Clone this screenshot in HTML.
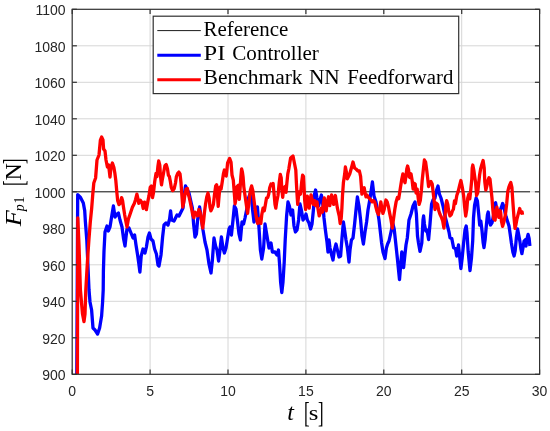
<!DOCTYPE html>
<html><head><meta charset="utf-8"><title>Plot</title>
<style>
html,body{margin:0;padding:0;background:#fff;}
svg{display:block;}
.tk{font-family:"Liberation Sans",sans-serif;font-size:14px;fill:#262626;}
.tx{font-family:"Liberation Serif",serif;fill:#000;}
</style></head><body>
<svg width="550" height="431" viewBox="0 0 550 431">
<rect width="550" height="431" fill="#fff"/>
<g stroke="#d6d6d6" stroke-width="1" fill="none"><line x1="150.10" y1="9.3" x2="150.10" y2="374.3"/><line x1="228.00" y1="9.3" x2="228.00" y2="374.3"/><line x1="305.90" y1="9.3" x2="305.90" y2="374.3"/><line x1="383.80" y1="9.3" x2="383.80" y2="374.3"/><line x1="461.70" y1="9.3" x2="461.70" y2="374.3"/><line x1="72.2" y1="337.80" x2="539.6" y2="337.80"/><line x1="72.2" y1="301.30" x2="539.6" y2="301.30"/><line x1="72.2" y1="264.80" x2="539.6" y2="264.80"/><line x1="72.2" y1="228.30" x2="539.6" y2="228.30"/><line x1="72.2" y1="191.80" x2="539.6" y2="191.80"/><line x1="72.2" y1="155.30" x2="539.6" y2="155.30"/><line x1="72.2" y1="118.80" x2="539.6" y2="118.80"/><line x1="72.2" y1="82.30" x2="539.6" y2="82.30"/><line x1="72.2" y1="45.80" x2="539.6" y2="45.80"/></g>
<clipPath id="c"><rect x="72.2" y="9.3" width="467.40000000000003" height="365.0"/></clipPath>
<g clip-path="url(#c)" fill="none" stroke-linejoin="round" stroke-linecap="butt">
<line x1="72.2" y1="191.80" x2="530" y2="191.80" stroke="#000" stroke-width="0.9"/>
<polyline stroke="#0000ff" stroke-width="3.3" points="76.8,374.3 77.7,194.6 80.5,197.4 83.3,203 84.7,210.6 85.4,221.8 86.8,240 89,290 90,302 91.6,310 93,328 95,330 97.6,334 99.6,328 101.6,316 102.6,302 103.2,290 103.4,271 104,251 105,232 107,226 108.4,231 110,227 111.6,217 113.4,206 115,217 117,214 118.4,213 120,220 122,227 123.6,239 125,246 126,237 127,229 129,228 131,233 133,238 134.6,235 136,245 137.6,255 138.6,262 139.9,272 141.2,256 143,249 145,253 146.4,247 148,237 149.4,233 151,239 153,241 154.6,249 156.4,254 158,265 159,266 161,255 162.6,237 164,225 166,223 168,225 169.6,219 170.6,211 171.6,220 174,221 177,215 179,216 181,212 183,208 184.4,194 185.5,186 187,189 189,193 191,202 192.4,208 193.6,224 195,237 196.4,234 197.6,220 199.6,207 201,216 203,230 205,242 207,250 209,264 211,273 212.4,260 214,238 215.6,246 217,250 218.6,261 220,250 221.4,237 223,248 224.4,253 226,248 227.6,238 229,229 230,227 231.4,235 233,220 234.4,206 236,209 237.6,222 239,234 240.4,240 242,222 243.6,224 245,218 247,208 248.4,198 250,194 251.6,198 252.6,210 254,222 256,216 257.4,207 259,228 260.4,250 261.8,259 263.6,248 265,224 267,236 269,248 271,243 272.4,252 275,252 277,255 278.5,250 279.7,266 280.6,282 281.8,292.5 283,282 284.2,262.5 285.2,240 286.6,216 288,202 289.4,206 291,215 292.6,210 294,226 295.4,232 297,230 298.6,220 300,204 301.4,210 303,220 304.6,218 306,214 307.4,220 309,223 310.6,229 312,224 313.4,210 314.6,194 315.6,190 317,198 318.6,206 320,200 321.4,195 323,206 324,218 325.4,230 327,242 328,252 329,240 330,248 331.4,254 333,260 334.4,250 336,244 337.4,250 339,257 340.6,256 342,238 343.4,222 344.6,230 346,240 347.4,248 349,262 350,250 351.4,240 353,238 354.6,224 356,210 357.4,197 359,206 360.6,220 362,236 363.4,244 365,232 366.6,222 368,210 369.4,202 371,192 372.4,182 374,196 376,202 377.4,210 379,220 380.6,234 381.6,243 383,252 385,258.6 386.4,248 387.6,244 389,241 391,232 392.8,223 394.2,229 395.5,241 397.3,257.7 399.5,279.5 401,261.4 401.8,252 403.6,267.7 405,254 406,245 407.3,238 409,220 411,214 413,206 415,202 416.4,214 417.5,236 418.5,243 420,251.4 421.8,243 423,220 423.6,216 424.4,224 425.8,231 427,230 428.6,239.5 430,224 431.6,204 433,200 435,198 436.6,190 438,186 439.4,194 441,198 443,206 445,216 447,224 449,232 450,237.7 451.8,238.6 453.6,247.7 455.5,248.6 456.7,256 458.5,245 459.6,256 460.9,268.6 462.2,257.7 463.6,243 465,230 466.2,226 467,233 468.2,252 470,270.5 471.5,257.7 472.7,241 473.5,218 474.6,205 476.1,198 477.4,201 478.6,213 479.7,225 480.8,221 482,230.5 483.2,243 484,247.6 485.1,239.8 486.3,226 487.4,215 488.2,212 489.3,221 490.5,225 492,222.8 493.6,215 494.7,204.3 495.6,202.7 496.7,209 498,213 500,211 501.3,207.4 502.6,203.5 503.6,205.8 504.9,212 506,216.6 507.5,221.3 509,226 510.1,233.6 511.4,243 512.9,252.2 514.1,256 515.2,250.6 516.3,238.3 517.6,229 518.8,235.2 519.9,241.4 520.9,249 521.9,253.7 523,247.6 524,241.4 525.3,239.8 526,246 527.1,238.3 528.1,234.4 529.1,238.3 529.9,246"/>
<polyline stroke="#ff0000" stroke-width="3.3" points="77.4,374.3 77.8,218 79,245 80.4,290 82.5,314 84,321.6 85,314 85.8,290 87.4,262 88.9,240 90.3,222 91.7,208 92.8,194 93.8,183 95.6,178 97,160 99,155 100.4,140 101.6,137 103,140 103.6,149 105,151 106,160 107.4,167 108.6,165 110,177 111,167 112.4,163 113.9,167.6 114.8,172.7 115.8,180.4 116.8,191.9 117.7,200.8 119,204.6 120.3,203.4 121.6,197.6 122.6,200.8 123.5,207.2 124.7,215 125.6,220 127,227 128.4,219 129.8,215 132.4,207.2 134.3,203.4 135.6,199.5 136.9,194.2 137.8,198.2 138.8,203.4 140.3,200.2 142,202.7 143.2,208.5 144.5,202.1 145.4,204.6 146.4,209.7 147.7,202.1 149,195.7 150.2,187.4 151.3,186.1 152.5,197.6 153.4,193.2 154.7,181.7 156,173.4 156.9,176.6 157.9,166.4 158.7,161 159.8,165.1 160.5,176.6 161.5,184.9 162.4,179.1 163.6,172.7 164.9,165.7 166.2,164.5 167.5,168.9 168.4,175.3 169.4,176.6 170.4,181.7 171.3,187.4 172.6,190.6 174.2,188.7 175.5,183 176.4,176.6 177.7,173.4 178.9,172.1 180,173.8 181,182.8 181.9,195.5 182.8,207 183.8,201.9 184.8,195.5 186.1,189.1 187.4,188.5 188.3,194.2 189.2,197.4 190.2,201.9 191.5,208.3 192.7,214.6 193.8,217.8 195,212.1 196.3,213.4 197.6,215.9 198.9,209.5 200.1,212.1 201.4,219.7 202.7,228 203.6,221 204.5,212.1 205.5,204.4 206.8,196.8 208,193 209.1,198 210,207 210.9,210.8 212.1,208.2 213.4,204.4 214.4,195.5 215.7,185.9 216.6,184.7 217.4,195.5 218.2,206.3 219.1,195.5 219.9,187.2 221.1,189.1 222.1,182.8 223.4,174 224.4,170 225.3,175 226.2,176 226.9,170 227.6,163 229.6,158.4 231,162 232,175 233.3,180.2 234.2,191.7 235.1,203.8 236.1,198 237,186.6 238.4,185.3 239.3,199.3 239.9,191.7 240.9,176.4 241.6,169 242.4,172 243.1,177 243.8,186.6 245,195.5 246.3,204.4 247.6,213.4 248.2,208.2 249,203.2 250.3,190.4 251.6,185.9 252.8,190.4 253.7,198 255,208.2 256.3,217.2 257.6,223.5 258.8,221 259.7,218.4 260.8,223.5 261.8,214.6 263,208.2 264.3,210.8 265.2,205.7 266.5,198 267.8,197.4 268.7,194.2 269.7,187.8 271,184 272.2,185.3 273.1,183.4 274.1,194.2 275,204.4 275.8,208.2 276.7,201.9 278,195.5 279.2,182.8 280.3,174.5 281.2,177.6 281.8,189.1 282.7,197.4 283.7,187.8 285,186.6 286,192.3 286.9,182.8 287.8,173.8 288.8,169 290.6,158 293,156 294.6,164 295.8,170 296.4,182.8 297.1,195.5 297.7,204.4 298.6,195.5 299.6,191.7 300.5,194.2 301.6,182.8 302.6,175.1 303.5,176.4 304.1,187.8 304.7,200.6 305.6,209.5 306.4,201.9 307.3,196.1 308.2,201.9 309.2,208.2 310.1,200.6 311.1,194.9 312.1,199.3 313.3,204.4 314.6,200.6 315.6,205.7 316.3,204.4 317,201.9 317.9,208.2 319.2,215.9 320.5,212.1 321.4,208.2 322.4,212.1 323.4,203.2 324.3,198 325.2,207 326.2,210.8 327.2,201.9 328.5,196.8 329.8,205.7 330.7,200.6 331.6,194.9 332.6,199.3 333.6,204.4 334.5,199.3 335.4,195.5 336.4,201.9 337.4,208.2 338.3,212.1 339.2,215.9 340.2,223.5 341.2,218.4 341.9,208.2 342.5,195.5 343.4,182.8 344.7,173.8 345.4,167 346.4,172 347.2,178.9 348.5,176.4 349.8,173.8 351.4,168 353,162 354.6,168 356,169 358,171 359.4,171 360.6,176.4 361.3,185.3 361.9,194.2 362.9,190.4 364.2,187.8 365.1,193 366,196.8 367,194.9 368.3,197.4 369.6,198.7 370.8,200 372.1,201.9 373.4,200.6 374.7,201.9 375.9,207 377.2,212.1 378.5,214.6 379.8,208.2 380.8,201.9 381.7,207 382.9,213.4 384.2,209.5 385,204.4 385.9,200 387.2,201.9 388.5,207 389.7,213.4 391,219.7 392.3,228 393.6,218.4 394.8,209.5 396.1,201.9 397.4,197.4 398.7,198.7 399.6,193 400.6,186.6 401.6,180.2 402.9,173.8 404.1,180.2 405,182.8 405.9,176.4 406.8,169 407.6,166 408.6,170 409.3,177 410.1,177.6 411,173.8 412.1,180.2 413.1,189.1 414.3,183.4 415.2,184 416.1,193 417.2,189.1 418.2,198 419.1,204.4 420.3,200.6 421.4,190.4 422.2,180.2 423.3,170 424.4,160 425.6,162 426.7,170 427.6,177.6 428.6,186.6 429.6,182.8 430.9,181.5 432.2,184 433.1,191.7 434,199.3 435,209.5 436.3,203.2 437.6,204.4 438.8,210.8 440.1,214.6 441.4,217.2 442.7,221 443.9,228 444.9,218.4 445.8,205.7 446.7,200.6 447.8,204.4 448.8,212.1 450,215.9 451.3,214.6 452.4,211 453.4,209.2 454.5,201 455.4,203.7 456.8,195.5 458.2,191.4 459.5,185.9 460.9,180.5 462.3,187.3 463.6,195.5 464.6,206.5 465.7,216.1 466.8,209.2 467.7,198.3 468.8,194.2 469.8,198.9 470.9,188.7 471.8,179.1 472.2,168 472.8,165 473.8,170 474.6,176 475.5,181.8 476.6,195.5 477.7,192.8 478.7,183.2 479.6,175 480.6,169 481.7,165 483.1,160.5 484.2,168 484.8,181.8 485.8,190.1 486.9,185.9 487.9,180.5 489,177.7 490,179.1 491,188.7 492,198.3 492.8,209.2 493.7,218.8 495.1,220.2 496.1,210.6 496.9,207.2 497.8,213.3 498.8,217.4 499.9,210.6 500.6,212 501.5,221.5 502.6,226.3 504,221.5 505.4,214.7 506.7,203.7 507.8,191.4 508.8,187.3 509.8,184.6 510.8,182.5 511.9,187.3 512.9,202.4 513.9,216.1 515,228.4 516,224.3 517,218.8 518.4,213.3 519.7,208.5 520.7,212.6 522.1,212 522.5,214.7"/>
</g>
<g stroke="#303030" stroke-width="1.2" fill="none"><line x1="72.20" y1="374.3" x2="72.20" y2="369.6"/><line x1="72.20" y1="9.3" x2="72.20" y2="14.0"/><line x1="150.10" y1="374.3" x2="150.10" y2="369.6"/><line x1="150.10" y1="9.3" x2="150.10" y2="14.0"/><line x1="228.00" y1="374.3" x2="228.00" y2="369.6"/><line x1="228.00" y1="9.3" x2="228.00" y2="14.0"/><line x1="305.90" y1="374.3" x2="305.90" y2="369.6"/><line x1="305.90" y1="9.3" x2="305.90" y2="14.0"/><line x1="383.80" y1="374.3" x2="383.80" y2="369.6"/><line x1="383.80" y1="9.3" x2="383.80" y2="14.0"/><line x1="461.70" y1="374.3" x2="461.70" y2="369.6"/><line x1="461.70" y1="9.3" x2="461.70" y2="14.0"/><line x1="539.60" y1="374.3" x2="539.60" y2="369.6"/><line x1="539.60" y1="9.3" x2="539.60" y2="14.0"/><line x1="72.2" y1="374.30" x2="76.9" y2="374.30"/><line x1="539.6" y1="374.30" x2="534.9" y2="374.30"/><line x1="72.2" y1="337.80" x2="76.9" y2="337.80"/><line x1="539.6" y1="337.80" x2="534.9" y2="337.80"/><line x1="72.2" y1="301.30" x2="76.9" y2="301.30"/><line x1="539.6" y1="301.30" x2="534.9" y2="301.30"/><line x1="72.2" y1="264.80" x2="76.9" y2="264.80"/><line x1="539.6" y1="264.80" x2="534.9" y2="264.80"/><line x1="72.2" y1="228.30" x2="76.9" y2="228.30"/><line x1="539.6" y1="228.30" x2="534.9" y2="228.30"/><line x1="72.2" y1="191.80" x2="76.9" y2="191.80"/><line x1="539.6" y1="191.80" x2="534.9" y2="191.80"/><line x1="72.2" y1="155.30" x2="76.9" y2="155.30"/><line x1="539.6" y1="155.30" x2="534.9" y2="155.30"/><line x1="72.2" y1="118.80" x2="76.9" y2="118.80"/><line x1="539.6" y1="118.80" x2="534.9" y2="118.80"/><line x1="72.2" y1="82.30" x2="76.9" y2="82.30"/><line x1="539.6" y1="82.30" x2="534.9" y2="82.30"/><line x1="72.2" y1="45.80" x2="76.9" y2="45.80"/><line x1="539.6" y1="45.80" x2="534.9" y2="45.80"/><line x1="72.2" y1="9.30" x2="76.9" y2="9.30"/><line x1="539.6" y1="9.30" x2="534.9" y2="9.30"/>
<rect x="72.2" y="9.3" width="467.40000000000003" height="365.0"/></g>
<g class="tk"><text x="72.20" y="395.7" text-anchor="middle">0</text><text x="150.10" y="395.7" text-anchor="middle">5</text><text x="228.00" y="395.7" text-anchor="middle">10</text><text x="305.90" y="395.7" text-anchor="middle">15</text><text x="383.80" y="395.7" text-anchor="middle">20</text><text x="461.70" y="395.7" text-anchor="middle">25</text><text x="539.60" y="395.7" text-anchor="middle">30</text><text x="65.6" y="380.40" text-anchor="end">900</text><text x="65.6" y="343.90" text-anchor="end">920</text><text x="65.6" y="307.40" text-anchor="end">940</text><text x="65.6" y="270.90" text-anchor="end">960</text><text x="65.6" y="234.40" text-anchor="end">980</text><text x="65.6" y="197.90" text-anchor="end">1000</text><text x="65.6" y="161.40" text-anchor="end">1020</text><text x="65.6" y="124.90" text-anchor="end">1040</text><text x="65.6" y="88.40" text-anchor="end">1060</text><text x="65.6" y="51.90" text-anchor="end">1080</text><text x="65.6" y="15.40" text-anchor="end">1100</text></g>
<rect x="153.2" y="16.2" width="305.5" height="77.4" fill="#fff" stroke="#303030" stroke-width="1.2"/>
<line x1="157.3" y1="30.6" x2="200.8" y2="30.6" stroke="#000" stroke-width="0.9"/>
<line x1="157.3" y1="55.2" x2="200.8" y2="55.2" stroke="#0000ff" stroke-width="3.1"/>
<line x1="157.3" y1="79.7" x2="200.8" y2="79.7" stroke="#ff0000" stroke-width="3.1"/>
<g class="tx" font-size="20">
<text x="203.6" y="35.5" textLength="84.8" lengthAdjust="spacingAndGlyphs">Reference</text>
<text x="203.6" y="59.8" textLength="21.8" lengthAdjust="spacingAndGlyphs">PI</text>
<text x="232.3" y="59.8" textLength="86.6" lengthAdjust="spacingAndGlyphs">Controller</text>
<text x="203.6" y="84.2" textLength="99" lengthAdjust="spacingAndGlyphs">Benchmark</text>
<text x="308.9" y="84.2" textLength="30.8" lengthAdjust="spacingAndGlyphs">NN</text>
<text x="347.2" y="84.2" textLength="106.2" lengthAdjust="spacingAndGlyphs">Feedforward</text>
<text x="287.2" y="420.1" font-size="24" font-style="italic">t</text>
<text x="303.9" y="422.2" font-size="28.5" textLength="5.6" lengthAdjust="spacingAndGlyphs">[</text>
<text x="308.7" y="420.1" font-size="21.4" textLength="9.6" lengthAdjust="spacingAndGlyphs">s</text>
<text x="317.9" y="422.2" font-size="28.5" textLength="5.6" lengthAdjust="spacingAndGlyphs">]</text>
<g transform="translate(20.8,226.3) rotate(-90)">
<text x="0" y="0" font-size="23.5" font-style="italic" textLength="16" lengthAdjust="spacingAndGlyphs">F</text>
<text x="15" y="3" font-size="14" font-style="italic">p</text>
<text x="22.8" y="3" font-size="14">1</text>
<text x="40.4" y="2.1" font-size="28.5" textLength="5.6" lengthAdjust="spacingAndGlyphs">[</text>
<text x="45.9" y="0" font-size="23.5" textLength="17.3" lengthAdjust="spacingAndGlyphs">N</text>
<text x="62.4" y="2.1" font-size="28.5" textLength="5.6" lengthAdjust="spacingAndGlyphs">]</text>
</g>
</g>
</svg>
</body></html>
